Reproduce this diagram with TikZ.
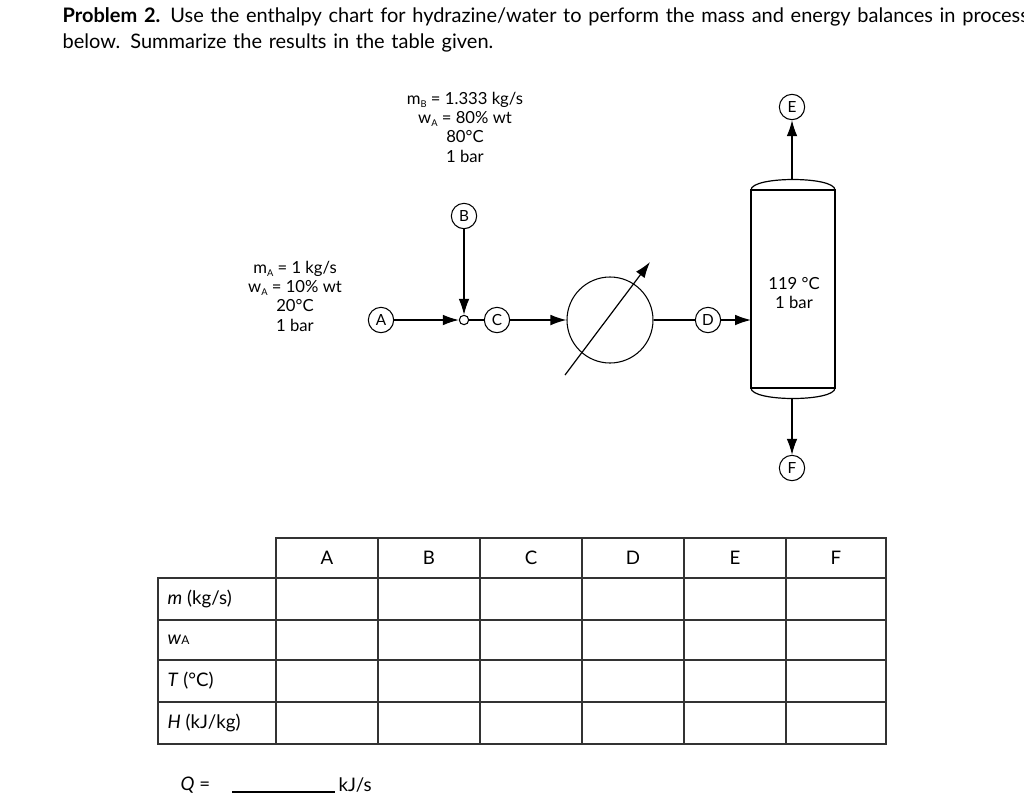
\documentclass[tikz,border=0pt]{standalone}
\usepackage{fontspec}
\setmainfont{Lato}
\usetikzlibrary{arrows.meta}
\newcommand{\sbA}[1]{\raisebox{-2.5pt}{\fontsize{7}{7}\selectfont #1}}
\begin{document}
\begin{tikzpicture}[x=0.75pt,y=-0.75pt,
  st/.style={circle,draw,line width=0.8pt,inner sep=0pt,minimum size=19pt,font=\fontsize{11.5}{11.5}\selectfont},
  ln/.style={line width=0.9pt},
  ar/.style={line width=0.9pt,-{Latex[length=12pt,width=8pt]}},
  lbl/.style={align=center,font=\fontsize{12.5}{14.5}\selectfont},
  cell/.style={font=\fontsize{14}{14}\selectfont}]
\useasboundingbox (0,0) rectangle (1024,811);
\clip (0,0) rectangle (1024,811);
\node[anchor=west,font=\fontsize{15}{19.5}\selectfont,align=left,text width=1100pt] (title) at (58,30) {\textbf{Problem 2.} Use the enthalpy chart for hydrazine/water to perform the mass and energy balances in process\\below. Summarize the results in the table given.};
% labels
\node[lbl] (la) at (295,296) {m\sbA{A} = 1 kg/s\\w\sbA{A} = 10\% wt\\20°C\\1 bar};
\node[lbl] (lb) at (465,127) {m\sbA{B} = 1.333 kg/s\\w\sbA{A} = 80\% wt\\80°C\\1 bar};
% streams
\node[st] (A) at (381,320) {A};
\node[circle,draw,line width=0.8pt,inner sep=0pt,minimum size=7pt] (J) at (464,320) {};
\node[st] (B) at (464,216) {B};
\node[st] (C) at (497,320) {C};
\node[circle,draw,line width=0.8pt,minimum size=64.5pt,inner sep=0pt] (HX) at (610,320) {};
\node[st] (D) at (708,320) {D};
\node[st] (E) at (792,107) {E};
\node[st] (F) at (792,468) {F};
\coordinate (h1) at (565,375); \coordinate (h2) at (650,262);
\draw[ar] (A) -- (J);
\draw[ar] (B) -- (J);
\draw[ln] (J) -- (C);
\draw[ar] (C) -- (HX);
\draw[ar] (h1) -- (h2);
\draw[ln] (HX) -- (D);
% column
\draw[line width=0.9pt] (751,190) rectangle (835,388);
\draw[line width=0.9pt] (751,190) .. controls (751,176) and (835,176) .. (835,190);
\draw[line width=0.9pt] (751,388) .. controls (751,402) and (835,402) .. (835,388);
\coordinate (cin) at (751,320); \coordinate (ctop) at (792,179); \coordinate (cbot) at (792,399);
\draw[ar] (D) -- (cin);
\draw[ar] (ctop) -- (E);
\draw[ar] (cbot) -- (F);
\node[lbl] (lc) at (794,293) {119 °C\\1 bar};
% table
\draw[line width=0.8pt,draw=black!80] (276,538) rectangle (886,578);
\foreach \x in {378,480,582,684,786} \draw[line width=0.8pt,draw=black!80] (\x,538) -- (\x,744);
\draw[line width=0.8pt,draw=black!80] (158,578) rectangle (886,744);
\draw[line width=0.8pt,draw=black!80] (276,578) -- (276,744);
\foreach \y in {620,660,702} \draw[line width=0.8pt,draw=black!80] (158,\y) -- (886,\y);
\foreach \n/\x in {A/327,B/429,C/531,D/633,E/735,F/836} \node[cell] (h\n) at (\x,558) {\n};
\node[cell,anchor=west] (r1) at (163,599) {\textit{m} (kg/s)};
\node[cell,anchor=west] (r2) at (163,640) {\textit{w}{\fontsize{9}{9}\selectfont A}};
\node[cell,anchor=west] (r3) at (163,681) {\textit{T} (°C)};
\node[cell,anchor=west] (r4) at (163,723) {\textit{H} (kJ/kg)};
\node[cell,anchor=west] (q) at (176,785) {\textit{Q} =};
\coordinate (q1) at (232,792); \coordinate (q2) at (335,792);
\draw[line width=0.8pt] (q1) -- (q2);
\node[cell,anchor=west] (kj) at (334,785) {kJ/s};
\end{tikzpicture}
\end{document}
